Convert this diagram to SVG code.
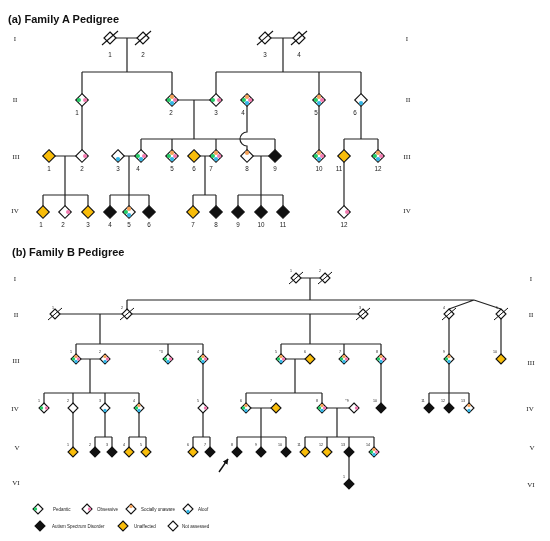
<svg xmlns="http://www.w3.org/2000/svg" width="550" height="541" viewBox="0 0 550 541">
<style>
.ln{fill:none;stroke:#222;stroke-width:1.2}
.w{fill:#fff;stroke:#111;stroke-width:1.1}
.k{fill:#111;stroke:#111;stroke-width:1.1}
.y{fill:#f9bd0a;stroke:#111;stroke-width:1.1}
.t{font-family:"Liberation Sans",Arial,sans-serif;font-weight:bold;font-size:11px;fill:#111}
.la{font-family:"Liberation Sans",Arial,sans-serif;font-size:6.3px;fill:#222;text-anchor:middle}
.lb{font-family:"Liberation Sans",Arial,sans-serif;font-size:3.6px;fill:#222;text-anchor:middle}
.rm{font-family:"Liberation Serif","Times New Roman",serif;font-size:7px;fill:#222;text-anchor:middle}
.lg{font-family:"Liberation Sans",Arial,sans-serif;font-size:4.5px;fill:#222}
</style>
<defs>
<polygon id="dA" points="0,-6.3 6.3,0 0,6.3 -6.3,0"/>
<polygon id="dB" points="0,-5 5,0 0,5 -5,0"/>
<circle id="gA" cx="-3.1" r="2.1" fill="#22cc66"/>
<circle id="pA" cx="3.1" r="2.1" fill="#f27ab0"/>
<circle id="oA" cy="-3.1" r="2.1" fill="#f5a25a"/>
<circle id="cA" cy="3.1" r="2.1" fill="#33b6e6"/>
<circle id="gB" cx="-2.5" r="1.7" fill="#22cc66"/>
<circle id="pB" cx="2.5" r="1.7" fill="#f27ab0"/>
<circle id="oB" cy="-2.5" r="1.7" fill="#f5a25a"/>
<circle id="cB" cy="2.5" r="1.7" fill="#33b6e6"/>
<g id="xA"><polygon points="0,-6 6,0 0,6 -6,0" fill="#fff" stroke="#111" stroke-width="1.2"/><line x1="-8" y1="7" x2="8" y2="-7" stroke="#111" stroke-width="1.1"/></g>
<g id="xB"><polygon points="0,-5 5,0 0,5 -5,0" fill="#fff" stroke="#111" stroke-width="1.1"/><line x1="-7" y1="6" x2="7" y2="-6" stroke="#111" stroke-width="1"/></g>
<marker id="ah" viewBox="0 0 10 10" refX="9" refY="5" markerWidth="4" markerHeight="4" orient="auto"><path d="M0,0 L10,5 L0,10 z" fill="#111"/></marker>
</defs>
<g opacity="0.999">
<text class="t" x="8" y="23">(a) Family A Pedigree</text>
<text class="t" x="12" y="256">(b) Family B Pedigree</text>

<g id="gen-labels">
<text class="rm" x="15" y="41">I</text><text class="rm" x="407" y="41">I</text>
<text class="rm" x="15" y="102">II</text><text class="rm" x="408" y="102">II</text>
<text class="rm" x="16" y="159">III</text><text class="rm" x="407" y="159">III</text>
<text class="rm" x="15" y="213">IV</text><text class="rm" x="407" y="213">IV</text>
<text class="rm" x="15" y="281">I</text><text class="rm" x="531" y="281">I</text>
<text class="rm" x="16" y="317">II</text><text class="rm" x="531" y="317">II</text>
<text class="rm" x="16" y="363">III</text><text class="rm" x="531" y="365">III</text>
<text class="rm" x="15" y="411">IV</text><text class="rm" x="530" y="411">IV</text>
<text class="rm" x="17" y="450">V</text><text class="rm" x="532" y="450">V</text>
<text class="rm" x="16" y="485">VI</text><text class="rm" x="531" y="487">VI</text>
</g>

<g id="connectors" class="ln">
<path d="M116,38 H137 M127,38 V72 M82,72 H172 M82,72 V94 M172,72 V94"/>
<path d="M271,38 H293 M283,38 V72 M216,72 H361 M216,72 V94 M319,72 V94 M361,72 V94"/>
<path d="M178,100 H210 M194,100 V139 M141,139 H275 M141,139 V150 M172,139 V150 M216,139 V150 M275,139 V150"/>
<path d="M247,106 V132 A7,7 0 0 0 247,146 V150"/>
<path d="M82,106 V150 M319,106 V150"/>
<path d="M361,106 V139 M344,139 H378 M344,139 V150 M378,139 V150"/>
<path d="M55,156 H76 M65,156 V195 M43,195 H88 M43,195 V206 M65,195 V206 M88,195 V206"/>
<path d="M124,156 H135 M129,156 V195 M110,195 H149 M110,195 V206 M129,195 V206 M149,195 V206"/>
<path d="M200,156 H210 M205,156 V195 M193,195 H216 M193,195 V206 M216,195 V206"/>
<path d="M253,156 H269 M261,156 V195 M238,195 H283 M238,195 V206 M261,195 V206 M283,195 V206"/>
<path d="M344,162 V206"/>
<path d="M301,278 H320 M310,278 V300 M127,300 H474 M127,300 V309 M474,300 L449,309 M474,300 L501,309"/>
<path d="M60,314 H122 M100,314 V344 M76,344 H203 M76,344 V354 M168,344 V354 M203,344 V354"/>
<path d="M132,314 H358 M310,314 V344 M281,344 H381 M281,344 V354 M344,344 V354 M381,344 V354"/>
<path d="M449,319 V354 M501,319 V354"/>
<path d="M81,359 H100 M90,359 V393 M44,393 H139 M44,393 V403 M73,393 V403 M105,393 V403 M139,393 V403"/>
<path d="M203,364 V403 M381,364 V403"/>
<path d="M286,359 H305 M295,359 V393 M246,393 H322 M246,393 V403 M322,393 V403"/>
<path d="M449,364 V393 M429,393 H469 M429,393 V403 M449,393 V403 M469,393 V403"/>
<path d="M73,413 V447"/>
<path d="M105,413 V437 M95,437 H112 M95,437 V447 M112,437 V447"/>
<path d="M139,413 V437 M129,437 H146 M129,437 V447 M146,437 V447"/>
<path d="M203,413 V437 M193,437 H210 M193,437 V447 M210,437 V447"/>
<path d="M251,408 H271 M261,408 V437 M237,437 H286 M237,437 V447 M261,437 V447 M286,437 V447"/>
<path d="M327,408 H349 M337,408 V437 M305,437 H374 M305,437 V447 M327,437 V447 M349,437 V447 M374,437 V447"/>
<path d="M349,457 V479"/>
<line x1="219" y1="472" x2="228" y2="459" stroke="#111" stroke-width="1.4" marker-end="url(#ah)"/>
</g>

<g id="A-I-1" transform="translate(110,38)"><use href="#xA"/><text class="la" y="19">1</text></g>
<g id="A-I-2" transform="translate(143,38)"><use href="#xA"/><text class="la" y="19">2</text></g>
<g id="A-I-3" transform="translate(265,38)"><use href="#xA"/><text class="la" y="19">3</text></g>
<g id="A-I-4" transform="translate(299,38)"><use href="#xA"/><text class="la" y="19">4</text></g>

<g id="A-II-1" transform="translate(82,100)"><use href="#dA" class="w"/><use href="#gA"/><use href="#pA"/><text class="la" x="-5" y="15">1</text></g>
<g id="A-II-2" transform="translate(172,100)"><use href="#dA" class="w"/><use href="#oA"/><use href="#gA"/><use href="#pA"/><use href="#cA"/><text class="la" x="-1" y="15">2</text></g>
<g id="A-II-3" transform="translate(216,100)"><use href="#dA" class="w"/><use href="#gA"/><use href="#pA"/><text class="la" y="15">3</text></g>
<g id="A-II-4" transform="translate(247,100)"><use href="#dA" class="w"/><use href="#oA"/><use href="#gA"/><use href="#pA"/><use href="#cA"/><text class="la" x="-4" y="15">4</text></g>
<g id="A-II-5" transform="translate(319,100)"><use href="#dA" class="w"/><use href="#oA"/><use href="#gA"/><use href="#pA"/><use href="#cA"/><text class="la" x="-3" y="15">5</text></g>
<g id="A-II-6" transform="translate(361,100)"><use href="#dA" class="w"/><use href="#cA"/><text class="la" x="-6" y="15">6</text></g>

<g id="A-III-1" transform="translate(49,156)"><use href="#dA" class="y"/><text class="la" y="15">1</text></g>
<g id="A-III-2" transform="translate(82,156)"><use href="#dA" class="w"/><use href="#pA"/><text class="la" y="15">2</text></g>
<g id="A-III-3" transform="translate(118,156)"><use href="#dA" class="w"/><use href="#cA"/><text class="la" y="15">3</text></g>
<g id="A-III-4" transform="translate(141,156)"><use href="#dA" class="w"/><use href="#gA"/><use href="#pA"/><use href="#cA"/><text class="la" x="-3" y="15">4</text></g>
<g id="A-III-5" transform="translate(172,156)"><use href="#dA" class="w"/><use href="#oA"/><use href="#gA"/><use href="#pA"/><use href="#cA"/><text class="la" y="15">5</text></g>
<g id="A-III-6" transform="translate(194,156)"><use href="#dA" class="y"/><text class="la" y="15">6</text></g>
<g id="A-III-7" transform="translate(216,156)"><use href="#dA" class="w"/><use href="#oA"/><use href="#gA"/><use href="#pA"/><use href="#cA"/><text class="la" x="-5" y="15">7</text></g>
<g id="A-III-8" transform="translate(247,156)"><use href="#dA" class="w"/><use href="#oA"/><text class="la" y="15">8</text></g>
<g id="A-III-9" transform="translate(275,156)"><use href="#dA" class="k"/><text class="la" y="15">9</text></g>
<g id="A-III-10" transform="translate(319,156)"><use href="#dA" class="w"/><use href="#oA"/><use href="#gA"/><use href="#pA"/><use href="#cA"/><text class="la" y="15">10</text></g>
<g id="A-III-11" transform="translate(344,156)"><use href="#dA" class="y"/><text class="la" x="-5" y="15">11</text></g>
<g id="A-III-12" transform="translate(378,156)"><use href="#dA" class="w"/><use href="#oA"/><use href="#gA"/><use href="#pA"/><use href="#cA"/><text class="la" y="15">12</text></g>

<g id="A-IV-1" transform="translate(43,212)"><use href="#dA" class="y"/><text class="la" x="-2" y="15">1</text></g>
<g id="A-IV-2" transform="translate(65,212)"><use href="#dA" class="w"/><use href="#pA"/><text class="la" x="-2" y="15">2</text></g>
<g id="A-IV-3" transform="translate(88,212)"><use href="#dA" class="y"/><text class="la" y="15">3</text></g>
<g id="A-IV-4" transform="translate(110,212)"><use href="#dA" class="k"/><text class="la" y="15">4</text></g>
<g id="A-IV-5" transform="translate(129,212)"><use href="#dA" class="w"/><use href="#oA"/><use href="#gA"/><use href="#cA"/><text class="la" y="15">5</text></g>
<g id="A-IV-6" transform="translate(149,212)"><use href="#dA" class="k"/><text class="la" y="15">6</text></g>
<g id="A-IV-7" transform="translate(193,212)"><use href="#dA" class="y"/><text class="la" y="15">7</text></g>
<g id="A-IV-8" transform="translate(216,212)"><use href="#dA" class="k"/><text class="la" y="15">8</text></g>
<g id="A-IV-9" transform="translate(238,212)"><use href="#dA" class="k"/><text class="la" y="15">9</text></g>
<g id="A-IV-10" transform="translate(261,212)"><use href="#dA" class="k"/><text class="la" y="15">10</text></g>
<g id="A-IV-11" transform="translate(283,212)"><use href="#dA" class="k"/><text class="la" y="15">11</text></g>
<g id="A-IV-12" transform="translate(344,212)"><use href="#dA" class="w"/><use href="#pA"/><text class="la" y="15">12</text></g>

<g id="B-I-1" transform="translate(296,278)"><use href="#xB"/><text class="lb" x="-5" y="-6">1</text></g>
<g id="B-I-2" transform="translate(325,278)"><use href="#xB"/><text class="lb" x="-5" y="-6">2</text></g>

<g id="B-II-1" transform="translate(55,314)"><use href="#xB"/><text class="lb" x="-2" y="-5">1</text></g>
<g id="B-II-2" transform="translate(127,314)"><use href="#xB"/><text class="lb" x="-5" y="-5">2</text></g>
<g id="B-II-3" transform="translate(363,314)"><use href="#xB"/><text class="lb" x="-3" y="-5">3</text></g>
<g id="B-II-4" transform="translate(449,314)"><use href="#xB"/><text class="lb" x="-5" y="-5">4</text></g>
<g id="B-II-5" transform="translate(501,314)"><use href="#xB"/><text class="lb" x="-4" y="-5">5</text></g>

<g id="B-III-1" transform="translate(76,359)"><use href="#dB" class="w"/><use href="#oB"/><use href="#gB"/><use href="#pB"/><use href="#cB"/><text class="lb" x="-5" y="-6">1</text></g>
<g id="B-III-2" transform="translate(105,359)"><use href="#dB" class="w"/><use href="#oB"/><use href="#pB"/><use href="#cB"/><text class="lb" x="-5" y="-6">2</text></g>
<g id="B-III-3" transform="translate(168,359)"><use href="#dB" class="w"/><use href="#gB"/><use href="#pB"/><use href="#cB"/><text class="lb" x="-7" y="-6">*3</text></g>
<g id="B-III-4" transform="translate(203,359)"><use href="#dB" class="w"/><use href="#oB"/><use href="#gB"/><use href="#pB"/><use href="#cB"/><text class="lb" x="-5" y="-6">4</text></g>
<g id="B-III-5" transform="translate(281,359)"><use href="#dB" class="w"/><use href="#oB"/><use href="#gB"/><use href="#pB"/><use href="#cB"/><text class="lb" x="-5" y="-6">5</text></g>
<g id="B-III-6" transform="translate(310,359)"><use href="#dB" class="y"/><text class="lb" x="-5" y="-6">6</text></g>
<g id="B-III-7" transform="translate(344,359)"><use href="#dB" class="w"/><use href="#oB"/><use href="#gB"/><use href="#pB"/><use href="#cB"/><text class="lb" x="-4" y="-6">7</text></g>
<g id="B-III-8" transform="translate(381,359)"><use href="#dB" class="w"/><use href="#oB"/><use href="#gB"/><use href="#pB"/><use href="#cB"/><text class="lb" x="-4" y="-6">8</text></g>
<g id="B-III-9" transform="translate(449,359)"><use href="#dB" class="w"/><use href="#oB"/><use href="#gB"/><use href="#cB"/><text class="lb" x="-5" y="-6">9</text></g>
<g id="B-III-10" transform="translate(501,359)"><use href="#dB" class="y"/><text class="lb" x="-6" y="-6">10</text></g>

<g id="B-IV-1" transform="translate(44,408)"><use href="#dB" class="w"/><use href="#gB"/><use href="#pB"/><text class="lb" x="-5" y="-6">1</text></g>
<g id="B-IV-2" transform="translate(73,408)"><use href="#dB" class="w"/><text class="lb" x="-5" y="-6">2</text></g>
<g id="B-IV-3" transform="translate(105,408)"><use href="#dB" class="w"/><use href="#cB"/><text class="lb" x="-5" y="-6">3</text></g>
<g id="B-IV-4" transform="translate(139,408)"><use href="#dB" class="w"/><use href="#oB"/><use href="#gB"/><use href="#cB"/><text class="lb" x="-5" y="-6">4</text></g>
<g id="B-IV-5" transform="translate(203,408)"><use href="#dB" class="w"/><use href="#pB"/><text class="lb" x="-5" y="-6">5</text></g>
<g id="B-IV-6" transform="translate(246,408)"><use href="#dB" class="w"/><use href="#oB"/><use href="#gB"/><use href="#cB"/><text class="lb" x="-5" y="-6">6</text></g>
<g id="B-IV-7" transform="translate(276,408)"><use href="#dB" class="y"/><text class="lb" x="-5" y="-6">7</text></g>
<g id="B-IV-8" transform="translate(322,408)"><use href="#dB" class="w"/><use href="#oB"/><use href="#gB"/><use href="#pB"/><use href="#cB"/><text class="lb" x="-5" y="-6">8</text></g>
<g id="B-IV-9" transform="translate(354,408)"><use href="#dB" class="w"/><use href="#pB"/><text class="lb" x="-7" y="-6">*9</text></g>
<g id="B-IV-10" transform="translate(381,408)"><use href="#dB" class="k"/><text class="lb" x="-6" y="-6">10</text></g>
<g id="B-IV-11" transform="translate(429,408)"><use href="#dB" class="k"/><text class="lb" x="-6" y="-6">11</text></g>
<g id="B-IV-12" transform="translate(449,408)"><use href="#dB" class="k"/><text class="lb" x="-6" y="-6">12</text></g>
<g id="B-IV-13" transform="translate(469,408)"><use href="#dB" class="w"/><use href="#oB"/><use href="#cB"/><text class="lb" x="-6" y="-6">13</text></g>

<g id="B-V-1" transform="translate(73,452)"><use href="#dB" class="y"/><text class="lb" x="-5" y="-6">1</text></g>
<g id="B-V-2" transform="translate(95,452)"><use href="#dB" class="k"/><text class="lb" x="-5" y="-6">2</text></g>
<g id="B-V-3" transform="translate(112,452)"><use href="#dB" class="k"/><text class="lb" x="-5" y="-6">3</text></g>
<g id="B-V-4" transform="translate(129,452)"><use href="#dB" class="y"/><text class="lb" x="-5" y="-6">4</text></g>
<g id="B-V-5" transform="translate(146,452)"><use href="#dB" class="y"/><text class="lb" x="-5" y="-6">5</text></g>
<g id="B-V-6" transform="translate(193,452)"><use href="#dB" class="y"/><text class="lb" x="-5" y="-6">6</text></g>
<g id="B-V-7" transform="translate(210,452)"><use href="#dB" class="k"/><text class="lb" x="-5" y="-6">7</text></g>
<g id="B-V-8" transform="translate(237,452)"><use href="#dB" class="k"/><text class="lb" x="-5" y="-6">8</text></g>
<g id="B-V-9" transform="translate(261,452)"><use href="#dB" class="k"/><text class="lb" x="-5" y="-6">9</text></g>
<g id="B-V-10" transform="translate(286,452)"><use href="#dB" class="k"/><text class="lb" x="-6" y="-6">10</text></g>
<g id="B-V-11" transform="translate(305,452)"><use href="#dB" class="y"/><text class="lb" x="-6" y="-6">11</text></g>
<g id="B-V-12" transform="translate(327,452)"><use href="#dB" class="y"/><text class="lb" x="-6" y="-6">12</text></g>
<g id="B-V-13" transform="translate(349,452)"><use href="#dB" class="k"/><text class="lb" x="-6" y="-6">13</text></g>
<g id="B-V-14" transform="translate(374,452)"><use href="#dB" class="w"/><use href="#oB"/><use href="#gB"/><use href="#pB"/><use href="#cB"/><text class="lb" x="-6" y="-6">14</text></g>
<g id="B-VI-1" transform="translate(349,484)"><use href="#dB" class="k"/><text class="lb" x="-5" y="-6">1</text></g>

<g id="legend">
<g transform="translate(38,509)"><use href="#dB" class="w"/><use href="#gB"/></g><text class="lg" x="53" y="510.5">Pedantic</text>
<g transform="translate(87,509)"><use href="#dB" class="w"/><use href="#pB"/></g><text class="lg" x="97" y="510.5">Obsessive</text>
<g transform="translate(131,509)"><use href="#dB" class="w"/><use href="#oB"/></g><text class="lg" x="141" y="510.5">Socially unaware</text>
<g transform="translate(188,509)"><use href="#dB" class="w"/><use href="#cB"/></g><text class="lg" x="198" y="510.5">Aloof</text>
<g transform="translate(40,526)"><use href="#dB" class="k"/></g><text class="lg" x="52" y="527.5">Autism Spectrum Disorder</text>
<g transform="translate(123,526)"><use href="#dB" class="y"/></g><text class="lg" x="134" y="527.5">Unaffected</text>
<g transform="translate(173,526)"><use href="#dB" class="w"/></g><text class="lg" x="182" y="527.5">Not assessed</text>
</g>
</g>
</svg>
